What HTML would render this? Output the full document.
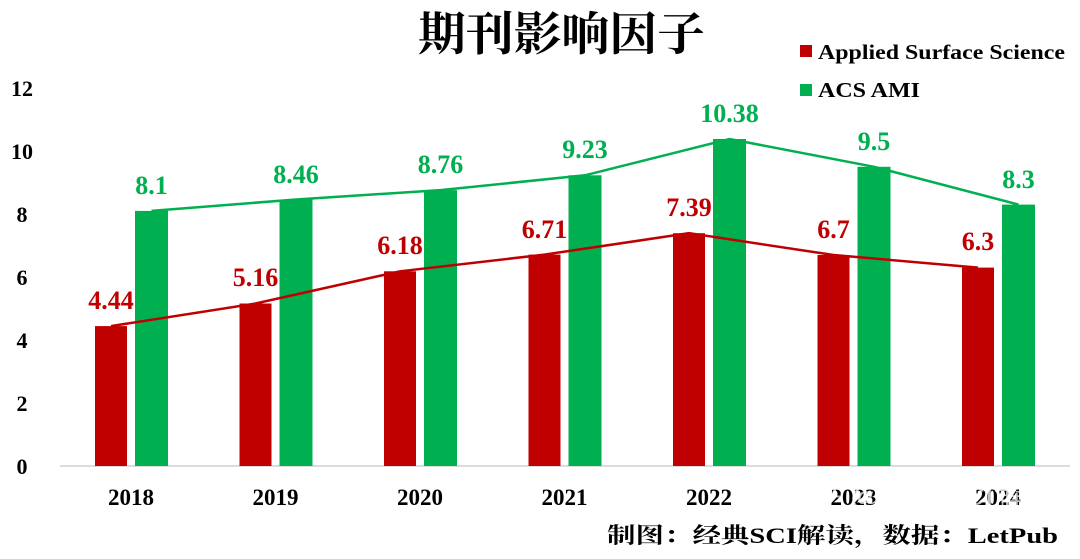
<!DOCTYPE html>
<html><head><meta charset="utf-8"><style>
html,body{margin:0;padding:0;background:#fff;}
svg text{font-family:"Liberation Serif","Noto Serif CJK SC",serif;font-weight:bold;}
</style></head><body>
<svg width="1080" height="554" viewBox="0 0 1080 554" xmlns="http://www.w3.org/2000/svg">
<rect width="1080" height="554" fill="#fff"/>
<text x="418" y="50" font-size="46" textLength="287" lengthAdjust="spacingAndGlyphs" fill="#000">期刊影响因子</text>
<rect x="800" y="45" width="12" height="12" fill="#C00000"/>
<text x="818" y="59" font-size="21" textLength="247" lengthAdjust="spacingAndGlyphs" fill="#000">Applied Surface Science</text>
<rect x="800" y="84" width="12" height="12" fill="#00B050"/>
<text x="818" y="97" font-size="21" textLength="102" lengthAdjust="spacingAndGlyphs" fill="#000">ACS AMI</text>
<g font-size="22" fill="#000" text-anchor="middle">
<text x="22" y="474">0</text><text x="22" y="411">2</text><text x="22" y="348">4</text>
<text x="22" y="285">6</text><text x="22" y="222">8</text><text x="22" y="159">10</text><text x="22" y="96">12</text>
</g>
<line x1="60" y1="466" x2="1070" y2="466" stroke="#d0d0d0" stroke-width="1.5"/>
<g fill="#C00000">
<rect x="95" y="326.1" width="32" height="139.9"/>
<rect x="239.5" y="303.5" width="32" height="162.5"/>
<rect x="384" y="271.3" width="32" height="194.7"/>
<rect x="528.5" y="254.6" width="32" height="211.4"/>
<rect x="673" y="233.2" width="32" height="232.8"/>
<rect x="817.5" y="255" width="32" height="211"/>
<rect x="962" y="267.6" width="32" height="198.4"/>
</g>
<g fill="#00B050">
<rect x="135" y="210.9" width="33" height="255.1"/>
<rect x="279.5" y="199.5" width="33" height="266.5"/>
<rect x="424" y="190.1" width="33" height="275.9"/>
<rect x="568.5" y="175.3" width="33" height="290.7"/>
<rect x="713" y="139" width="33" height="327"/>
<rect x="857.5" y="166.8" width="33" height="299.2"/>
<rect x="1002" y="204.6" width="33" height="261.4"/>
</g>
<polyline points="111,326.1 255.5,303.5 400,271.3 544.5,254.6 689,233.2 833.5,255 978,267.6" fill="none" stroke="#C00000" stroke-width="2.5"/>
<polyline points="151.5,210.9 296,199.5 440.5,190.1 585,175.3 729.5,139 874,166.8 1018.5,204.6" fill="none" stroke="#00B050" stroke-width="2.5"/>
<g font-size="26" fill="#C00000" text-anchor="middle">
<text x="111" y="309">4.44</text><text x="255.5" y="286">5.16</text><text x="400" y="254">6.18</text>
<text x="544.5" y="238">6.71</text><text x="689" y="216">7.39</text><text x="833.5" y="238">6.7</text><text x="978" y="250">6.3</text>
</g>
<g font-size="26" fill="#00B050" text-anchor="middle">
<text x="151.5" y="194">8.1</text><text x="296" y="183">8.46</text><text x="440.5" y="173">8.76</text>
<text x="585" y="158">9.23</text><text x="729.5" y="122">10.38</text><text x="874" y="150">9.5</text><text x="1018.5" y="188">8.3</text>
</g>
<g font-size="23" fill="#000" text-anchor="middle">
<text x="131" y="505">2018</text><text x="275.5" y="505">2019</text><text x="420" y="505">2020</text>
<text x="564.5" y="505">2021</text><text x="709" y="505">2022</text><text x="853.5" y="505">2023</text><text x="998" y="505">2024</text>
</g>
<text x="607" y="543" font-size="22" textLength="451" lengthAdjust="spacingAndGlyphs" fill="#000">制图：经典SCI解读，数据：LetPub</text>
<text x="780" y="505" font-size="26" textLength="275" lengthAdjust="spacingAndGlyphs" fill="#fff" fill-opacity="0.75" style="font-weight:normal;font-family:'Liberation Sans','Noto Sans CJK SC',sans-serif">知乎 @经典SCI解读</text>
</svg>
</body></html>
